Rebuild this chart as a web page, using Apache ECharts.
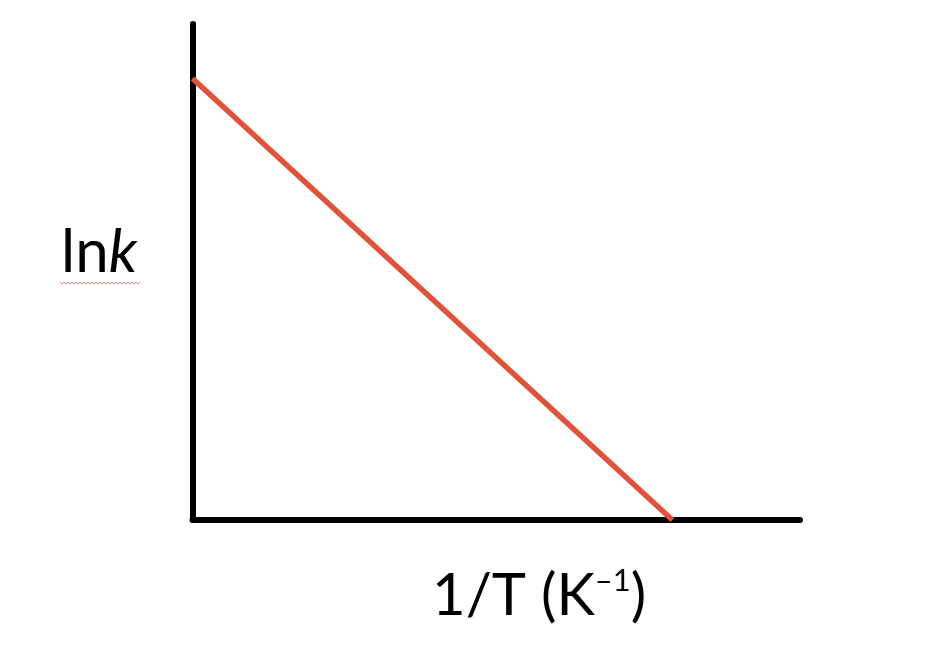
<!DOCTYPE html>
<html>
<head>
<meta charset="utf-8">
<script src="https://cdn.jsdelivr.net/npm/echarts@6/dist/echarts.min.js"></script>
<style>
html,body{margin:0;padding:0;background:#fff;}
#c{width:930px;height:648px;}
</style>
</head>
<body>
<div id="c"></div>
<script>
// Data
const lineX = [0, 79];
const lineY = [89, 0];
const xRange = [0, 100];
const yRange = [0, 100];
const xLabel = '1/T (K';
const xLabelSup = '\u20131';
const yLabelMain = 'ln';
const yLabelItalic = 'k';

const chart = echarts.init(document.getElementById('c'), null, {renderer: 'canvas'});
const font = 'Lato, "Open Sans", sans-serif';

chart.setOption({
  backgroundColor: '#ffffff',
  animation: false,
  grid: {left: 192.5, right: 130, top: 24, bottom: 128},
  xAxis: {
    type: 'value', min: xRange[0], max: xRange[1],
    axisLine: {show: true, lineStyle: {color: '#000', width: 6}},
    axisTick: {show: false}, axisLabel: {show: false}, splitLine: {show: false}
  },
  yAxis: {
    type: 'value', min: yRange[0], max: yRange[1],
    axisLine: {show: true, lineStyle: {color: '#000', width: 6}},
    axisTick: {show: false}, axisLabel: {show: false}, splitLine: {show: false}
  },
  series: [{
    type: 'line',
    data: lineX.map((x, i) => [x, lineY[i]]),
    symbol: 'none',
    lineStyle: {color: '#E0523A', width: 5.5, cap: 'butt'},
    z: 1
  }],
  graphic: [
    {
      type: 'text', left: 432, top: 561,
      style: {
        text: '{a|' + xLabel + '}{s|' + xLabelSup + '}{a|)}',
        rich: {
          a: {fontFamily: font, fontSize: 58, fill: '#000', verticalAlign: 'bottom', lineHeight: 64},
          s: {fontFamily: font, fontSize: 31, fill: '#000', verticalAlign: 'top', lineHeight: 64, padding: [4, 0, 0, 0]}
        }
      }
    },
    {
      type: 'text', left: 61, top: 223,
      style: {
        text: '{a|' + yLabelMain + '}{i|' + yLabelItalic + '}',
        rich: {
          a: {fontFamily: font, fontSize: 60, fill: '#000', lineHeight: 66},
          i: {fontFamily: font, fontSize: 60, fontStyle: 'italic', fill: '#000', lineHeight: 66}
        }
      }
    },
    {
      type: 'polyline', silent: true,
      shape: {points: (function(){ const p=[]; for(let x=60;x<=140;x+=2){ p.push([x, 283 + ((x/2)%2===0?-1.2:1.2)]); } return p; })()},
      style: {stroke: '#E88A80', lineWidth: 1, fill: null}
    }
  ]
});
</script>
</body>
</html>
